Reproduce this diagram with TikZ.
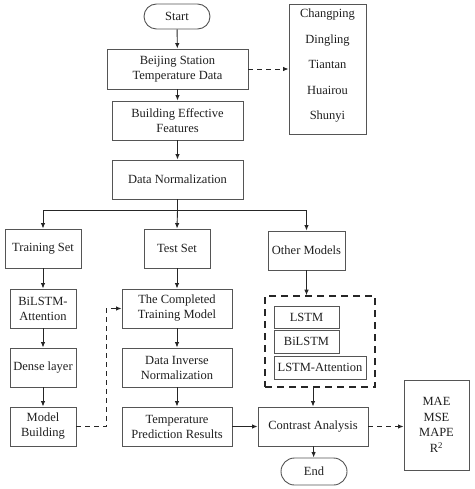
\documentclass[tikz,border=0pt]{standalone}
\usepackage{fontspec}
\setmainfont{Liberation Serif}
\usetikzlibrary{arrows.meta,shapes.misc}
\definecolor{bord}{HTML}{555555}
\definecolor{txt}{HTML}{1E1E1E}
\begin{document}
\begin{tikzpicture}[x=1pt,y=-1pt,
  font=\fontsize{12.5}{15}\selectfont,
  box/.style={draw=bord,line width=0.9pt,inner sep=0pt,align=center,text=txt},
  capsule/.style={box,rounded rectangle},
  conn/.style={draw=black!85,line width=0.9pt,-{Latex[length=5.5pt,width=4.5pt]}},
  dconn/.style={conn,dash pattern=on 5pt off 4pt},
  plain/.style={draw=black!85,line width=0.9pt},
]
\useasboundingbox (0,0) rectangle (474,489);
% top column
\node[capsule,minimum width=66pt,minimum height=25pt] (start) at (177,16.5) {Start};
\node[box,minimum width=141pt,minimum height=40pt] (beijing) at (177.5,69) {Beijing Station\\Temperature Data};
\node[box,minimum width=131pt,minimum height=39pt] (building) at (177.5,120.5) {Building Effective\\Features};
\node[box,minimum width=131pt,minimum height=39pt] (norm) at (177.5,179.5) {Data Normalization};
\node[box,minimum width=77pt,minimum height=130pt] (stations) at (327.5,69) {};
\node[align=center,text=txt,font=\fontsize{12.5}{25.5}\selectfont] (stationlist) at (327.5,66) {Changping\\Dingling\\Tiantan\\Huairou\\Shunyi};
% second row
\node[box,minimum width=76pt,minimum height=39pt] (train) at (43,248.5) {Training Set};
\node[box,minimum width=66pt,minimum height=39pt] (test) at (177,248.5) {Test Set};
\node[box,minimum width=77pt,minimum height=39pt] (other) at (306.5,250.5) {Other Models};
% left column
\node[box,minimum width=66pt,minimum height=39pt] (bilatt) at (43,308.5) {BiLSTM-\\Attention};
\node[box,minimum width=66pt,minimum height=39pt] (dense) at (43,367.5) {Dense layer};
\node[box,minimum width=66pt,minimum height=39pt] (model) at (43,426.5) {Model\\Building};
% middle column
\node[box,minimum width=110pt,minimum height=39pt] (completed) at (177,308.5) {The Completed\\Training Model};
\node[box,minimum width=110pt,minimum height=39pt] (inverse) at (177,367.5) {Data Inverse\\Normalization};
\node[box,minimum width=110pt,minimum height=39pt] (tpr) at (177,426.5) {Temperature\\Prediction Results};
% right column
\node[draw=black!85,line width=1.6pt,dash pattern=on 7pt off 5pt,minimum width=110pt,minimum height=91pt,inner sep=0pt] (dbox) at (320,341.5) {};
\node[box,minimum width=65pt,minimum height=22pt] (lstm) at (306.5,317) {LSTM};
\node[box,minimum width=65pt,minimum height=23pt] (bilstm) at (306.5,341.5) {BiLSTM};
\node[box,minimum width=92pt,minimum height=23pt] (lstmatt) at (320,367.5) {LSTM-Attention};
\node[box,minimum width=110pt,minimum height=39pt] (contrast) at (313,426.5) {Contrast Analysis};
\node[box,minimum width=65pt,minimum height=90pt,font=\fontsize{12.5}{15.5}\selectfont] (metrics) at (436.5,425) {MAE\\MSE\\MAPE\\R\textsuperscript{2}};
\node[capsule,minimum width=66pt,minimum height=27pt] (end) at (314,471.5) {End};
% connectors
\draw[conn] (start) -- (beijing);
\draw[conn] (beijing) -- (building);
\draw[conn] (building) -- (norm);
\draw[dconn] (beijing.east) -- (stations.west |- beijing.east);
\coordinate (split) at (177.5,210);
\draw[plain] (norm.south) -- (split);
\draw[conn] (split) -| (train.north);
\draw[conn] (split) -- (test.north);
\draw[conn] (split) -| (other.north);
\draw[conn] (train) -- (bilatt);
\draw[conn] (bilatt) -- (dense);
\draw[conn] (dense) -- (model);
\draw[conn] (test) -- (completed);
\draw[conn] (completed) -- (inverse);
\draw[conn] (inverse) -- (tpr);
\draw[dconn] (model.east) -- ++(30,0) |- (completed.west);
\draw[conn] (other.south) -- (other.south |- dbox.north);
\draw[conn] (contrast.north |- dbox.south) -- (contrast.north);
\draw[conn] (tpr) -- (contrast);
\draw[dconn] (contrast.east) -- (metrics.west |- contrast.east);
\draw[conn] (contrast) -- (end);
\end{tikzpicture}
\end{document}
